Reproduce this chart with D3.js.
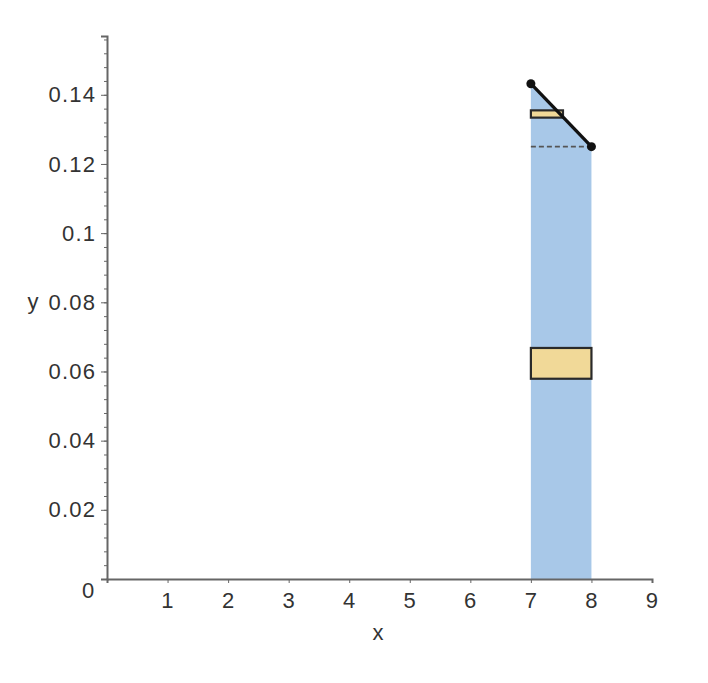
<!DOCTYPE html>
<html>
<head>
<meta charset="utf-8">
<script src="https://cdn.jsdelivr.net/npm/d3@7"></script>
<style>
  body { margin: 0; background: #fff; }
  text { font-family: "Liberation Sans", Arial, sans-serif; fill: #333; }
</style>
</head>
<body>
<svg id="chart" width="708" height="683"></svg>
<script>
// values
var xTicks = [1, 2, 3, 4, 5, 6, 7, 8, 9];
var yTicks = [0.02, 0.04, 0.06, 0.08, 0.1, 0.12, 0.14];
var yTickLabels = ["0.02", "0.04", "0.06", "0.08", "0.1", "0.12", "0.14"];
var curveX = [7, 8];
var curveY = [0.1432, 0.125];
var dashY = 0.125;
var smallBox = [7, 7.53, 0.1334, 0.1355];   // x0, x1, y0, y1
var bigBox = [7, 8, 0.0579, 0.0668];

var translate = function(x, y) { return "translate(" + x + "," + y + ")"; };

var svg = d3.select("#chart");

var x = d3.scaleLinear().domain([0, 9]).range([107, 652]);
var y = d3.scaleLinear().domain([0, 0.157]).range([579, 36]);

// shaded area under the segment
var pts = curveX.map(function(d, i) { return [d, curveY[i]]; });
var area = d3.area()
  .x(function(d) { return x(d[0]); })
  .y0(y(0))
  .y1(function(d) { return y(d[1]); });

svg.append("path")
  .datum(pts)
  .attr("d", area)
  .style("fill", "#a8c8e8");

// yellow boxes
[bigBox, smallBox].forEach(function(b) {
  svg.append("rect")
    .attr("x", x(b[0]))
    .attr("y", y(b[3]))
    .attr("width", x(b[1]) - x(b[0]))
    .attr("height", y(b[2]) - y(b[3]))
    .style("fill", "#f1d998")
    .style("stroke", "#2a2a2a")
    .style("stroke-width", 2.2);
});

// dashed line
svg.append("line")
  .attr("x1", x(curveX[0]))
  .attr("x2", x(curveX[1]))
  .attr("y1", y(dashY))
  .attr("y2", y(dashY))
  .style("stroke", "#555")
  .style("stroke-width", 1.8)
  .style("stroke-dasharray", "5,3");

// line and dots
svg.append("path")
  .datum(pts)
  .attr("d", d3.line().x(function(d) { return x(d[0]); }).y(function(d) { return y(d[1]); }))
  .style("fill", "none")
  .style("stroke", "#111")
  .style("stroke-width", 3.3);

svg.selectAll(".dot")
  .data(pts)
  .enter().append("circle")
  .attr("class", "dot")
  .attr("cx", function(d) { return x(d[0]); })
  .attr("cy", function(d) { return y(d[1]); })
  .attr("r", 4.5)
  .style("fill", "#111");

// axes
var xAxis = d3.axisBottom(x).tickValues(xTicks).tickSize(4).tickPadding(9);
var gx = svg.append("g").attr("transform", translate(0, y(0))).call(xAxis);

var minor = d3.range(1, 40).map(function(i) { return i * 0.004; });
var gyMinor = svg.append("g").attr("transform", translate(x(0), 0))
  .call(d3.axisLeft(y).tickValues(minor).tickSize(3).tickFormat(""));
gyMinor.select(".domain").remove();

var yAxis = d3.axisLeft(y).tickValues(yTicks).tickSize(6).tickPadding(6)
  .tickFormat(function(d, i) { return yTickLabels[i]; });
var gy = svg.append("g").attr("transform", translate(x(0), 0)).call(yAxis);

svg.selectAll(".domain").style("stroke", "#666").style("stroke-width", 2);
svg.selectAll(".tick line").style("stroke", "#666");
svg.selectAll(".tick text").style("font-size", "22px").style("fill", "#333")
  .style("letter-spacing", "1.2px")
  .style("font-family", "'Liberation Sans', Arial, sans-serif");
gy.selectAll(".tick text").attr("dx", "1.2px");

// zero label shared by both axes
svg.append("text")
  .attr("x", 88)
  .attr("y", y(0) + 19)
  .attr("text-anchor", "middle")
  .style("font-size", "22px")
  .style("fill", "#333")
  .text("0");

svg.append("text")
  .attr("x", 378)
  .attr("y", 640)
  .attr("text-anchor", "middle")
  .style("font-size", "22px")
  .style("fill", "#333")
  .text("x");

svg.append("text")
  .attr("x", 33)
  .attr("y", y(0.08) + 7)
  .attr("text-anchor", "middle")
  .style("font-size", "22px")
  .style("fill", "#333")
  .text("y");
</script>
</body>
</html>
